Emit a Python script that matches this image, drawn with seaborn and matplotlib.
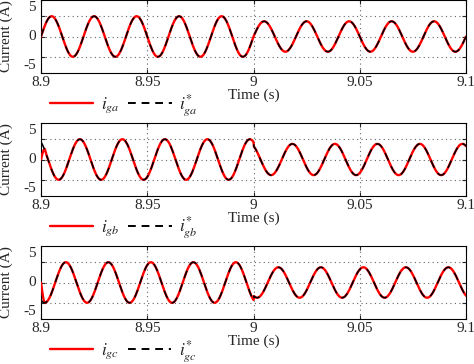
import numpy as np
import pandas as pd
import seaborn as sns
import matplotlib
matplotlib.use("Agg")
import matplotlib.pyplot as plt
from matplotlib.lines import Line2D

# ---------------- data ----------------
phase_names = ["a", "b", "c"]
freq_hz = 50.0
peak_time_s = [8.9050, 8.9183, 8.9117]      # time of a positive peak (per phase)
amp_before_A = [5.0, 5.0, 5.0]              # peak current before 9.0 s
amp_after_A = [3.75, 3.85, 3.75]            # peak current after 9.0 s
step_time_s = 9.0
t_start, t_end, t_step = 8.9, 9.1, 0.0002

# measured (red) start-up samples at the left edge of each panel
start_t = [[8.9000],
           [8.9000, 8.9006, 8.9012, 8.9018, 8.9024],
           [8.9000, 8.9004, 8.9008, 8.9012, 8.9016, 8.9020]]
start_v = [[0.0],
           [0.0, 1.3, 2.3, 2.6, 1.4],
           [0.0, -1.5, -3.0, -4.2, -4.8, -5.0]]

x_ticks = [8.9, 8.95, 9.0, 9.05, 9.1]
x_tick_labels = ["8.9", "8.95", "9", "9.05", "9.1"]
y_ticks = [-5, 0, 5]
y_tick_labels = ["-5", "0", "5"]

# ---------------- build long-form table ----------------
t = np.arange(t_start, t_end + t_step / 2, t_step)
rows = []
for k, ph in enumerate(phase_names):
    amp = np.where(t < step_time_s, amp_before_A[k], amp_after_A[k])
    ref = amp * np.cos(2 * np.pi * freq_hz * (t - peak_time_s[k]))
    rows.append(pd.DataFrame({"time": t, "current": ref, "signal": "ref", "phase": ph}))
    keep = t > start_t[k][-1] + 1e-9
    meas_t = np.concatenate([start_t[k], t[keep]])
    meas_v = np.concatenate([start_v[k], ref[keep]])
    rows.append(pd.DataFrame({"time": meas_t, "current": meas_v, "signal": "meas", "phase": ph}))
df = pd.concat(rows, ignore_index=True)

# ---------------- style ----------------
sns.set_style("ticks")
plt.rcParams["font.family"] = ["Liberation Serif", "DejaVu Serif"]
plt.rcParams["mathtext.fontset"] = "stix"
plt.rcParams["font.size"] = 11
plt.rcParams["axes.linewidth"] = 0.8

fig = plt.figure(figsize=(4.74, 3.64), dpi=100)
W, H = 474.0, 364.0
left_px, right_px = 41, 466
bottoms_px = [73, 196, 319]
height_px = 73

for k, ph in enumerate(phase_names):
    ax = fig.add_axes([left_px / W, 1 - bottoms_px[k] / H,
                       (right_px - left_px) / W, height_px / H])
    sub = df[df["phase"] == ph]
    sns.lineplot(data=sub[sub["signal"] == "meas"], x="time", y="current",
                 color="#ff0000", linewidth=1.7, estimator=None, sort=False,
                 ax=ax, zorder=3)
    sns.lineplot(data=sub[sub["signal"] == "ref"], x="time", y="current",
                 color="black", linewidth=1.15, estimator=None, sort=False,
                 dashes=False, ax=ax, zorder=4)
    ax.lines[-1].set_dashes((5, 4))

    ax.set_xlim(t_start, t_end)
    ax.set_ylim(-9, 9)
    ax.set_xticks(x_ticks)
    ax.set_xticklabels(x_tick_labels)
    ax.set_yticks(y_ticks)
    ax.tick_params(axis="both", direction="in", length=3, width=0.8,
                   top=True, right=True, labelsize=11, pad=2,
                   labelleft=False)
    ax.grid(True, linestyle=(0, (1, 3)), color="0.4", linewidth=0.8)
    for s in ax.spines.values():
        s.set_visible(True)
        s.set_color("black")

    # y tick labels (placed slightly away from the grid lines as in the reference)
    for v, lab in zip(y_ticks, y_tick_labels):
        dy = 0 if v == 0 else np.sign(v) * 6.0
        ax.annotate(lab, xy=(0, v), xycoords=("axes fraction", "data"),
                    xytext=(-3.6, dy), textcoords="offset points",
                    ha="right", va="center", fontsize=11)

    ax.set_xlabel("Time (s)", fontsize=11)
    ax.xaxis.set_label_coords(0.5, -16 / height_px)
    ax.xaxis.label.set_va("top")
    ax.set_ylabel("Current (A)", fontsize=11)
    ax.yaxis.set_label_coords(-28 / (right_px - left_px), 0.5)

    handles = [Line2D([], [], color="#ff0000", linewidth=1.7),
               Line2D([], [], color="black", linewidth=1.4, dashes=(4, 3))]
    labels = [r"$i_{g%s}$" % ph, r"$i_{g%s}^{*}$" % ph]
    ax.legend(handles, labels, loc="center left",
              bbox_to_anchor=(0.012, -32 / height_px), ncol=2, frameon=False,
              handlelength=2.5, handletextpad=0.45, columnspacing=0.5,
              borderaxespad=0.0, borderpad=0.2, fontsize=12.5)

fig.savefig("out.png", dpi=100)
